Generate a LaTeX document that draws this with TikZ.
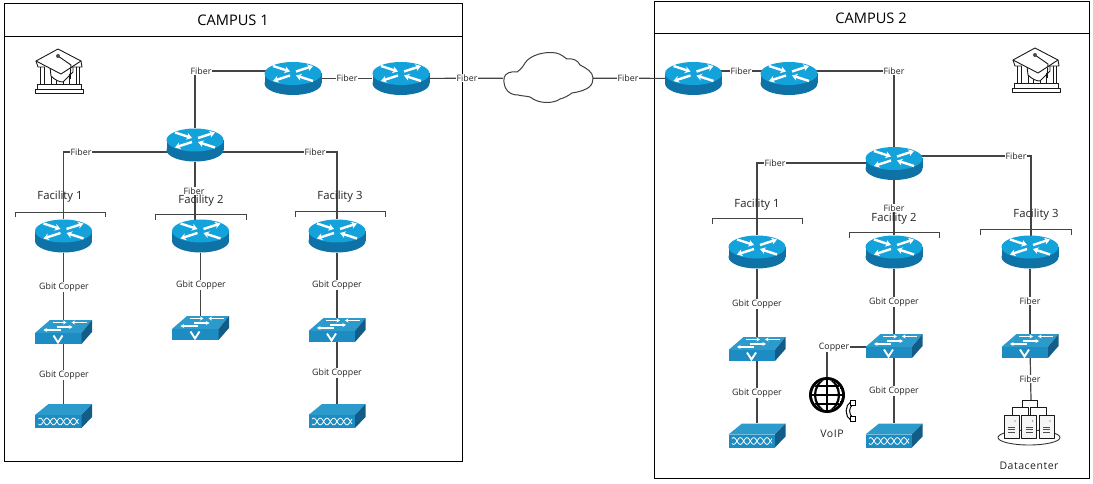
\documentclass[tikz,border=0pt]{standalone}
\usepackage{fontspec}
\setmainfont{Open Sans}
\usetikzlibrary{arrows.meta}
\definecolor{rtop}{HTML}{14A2DA}
\definecolor{rbody}{HTML}{0E72A6}
\definecolor{stop}{HTML}{2C9BCB}
\definecolor{sfront}{HTML}{1C8CC2}
\definecolor{sside}{HTML}{135C88}
\definecolor{linec}{HTML}{444444}
\definecolor{txt}{HTML}{222222}
\tikzset{
  x=1pt,y=-1pt,
  devbox/.style={inner sep=0pt,minimum width=57pt,minimum height=33pt,rectangle},
  conn/.style={draw=linec,line width=1.2pt},
  lab/.style={fill=white,inner sep=1pt,text=txt,font=\fontsize{8.8}{10}\selectfont},
  faclab/.style={inner sep=0pt,text=txt,font=\fontsize{11.3}{13}\selectfont},
  title/.style={inner sep=0pt,text=black,font=\fontsize{14.6}{16}\selectfont},
  captxt/.style={inner sep=0pt,text=txt,font=\fontsize{10.5}{12}\selectfont\addfontfeature{LetterSpace=5}},
  frame/.style={draw=black,line width=1pt},
  brack/.style={draw=linec,line width=1pt},
  warrow/.style={draw=white,line width=2.4pt,-{Stealth[length=5.5pt,width=7pt]}},
  sarrow/.style={draw=white,line width=1.2pt,-{Stealth[length=3.5pt,width=4pt]}},
  icon/.style={draw=black!90,line width=.9pt,line join=round},
  routerpic/.pic={
    \fill[rbody] (-28.5,-5) rectangle (28.5,5);
    \fill[rbody] (0,5) ellipse [x radius=28.5,y radius=11.5];
    \fill[rtop] (0,-5) ellipse [x radius=28.5,y radius=11.5];
    \draw[warrow] (-20,-12.5) -- (-3,-7);
    \draw[warrow] (20,2.5) -- (3,-3);
    \draw[warrow] (3,-7) -- (20,-12.5);
    \draw[warrow] (-3,-3) -- (-20,2.5);
  },
  switchpic/.pic={
    \fill[stop] (-28.5,1) -- (-13.5,-12) -- (28.5,-12) -- (18,1) -- cycle;
    \fill[sfront] (-28.5,1) rectangle (18,12);
    \fill[sside] (18,1) -- (28.5,-12) -- (28.5,0) -- (18,12) -- cycle;
    \draw[sarrow] (-11,-9.5) -- (3,-9.5);
    \draw[sarrow] (23,-9.5) -- (8,-9.5);
    \draw[sarrow] (-7,-5) -- (9,-5);
    \draw[sarrow] (-3,-2) -- (-20,-2);
    \draw[white,line width=1.9pt] (-10,3.5) -- (-5.5,10.5) -- (-1,3.5);
  },
  modulepic/.pic={
    \fill[stop] (-28.5,-1) -- (-15,-12) -- (28.5,-12) -- (18,-1) -- cycle;
    \fill[sfront] (-28.5,-1) rectangle (18,12);
    \fill[sside] (18,-1) -- (28.5,-12) -- (28.5,1) -- (18,12) -- cycle;
    \draw[white,line width=.8pt,smooth] plot[domain=-25:15,samples=50] (\x,{5.5+3.4*sin(\x*27)});
    \draw[white,line width=.8pt,smooth] plot[domain=-25:15,samples=50] (\x,{5.5-3.4*sin(\x*27)});
  },
  buildingpic/.pic={
    \draw[icon,fill=white] (-24,18) rectangle (24,22.5);
    \draw[icon] (-22,18) -- (-22,13.5) -- (22,13.5) -- (22,18);
    \draw[icon] (-19,-4) -- (-19,13.5) (-15,-4) -- (-15,13.5) (-8,0) -- (-8,13.5) (-3,4) -- (-3,13.5) (4,6) -- (4,13.5) (10,3) -- (10,13.5) (17,-4) -- (17,13.5) (20,-4) -- (20,13.5);
    \draw[icon] (-23,-10) -- (-21,-4) -- (-14,-4) (22,-10) -- (23,-4) -- (14,-4);
    \draw[icon,fill=white] (-9,-4) -- (-8,5) .. controls (-4,9) and (0,11) .. (4,11) -- (14,1) -- (14,-4) -- cycle;
    \draw[icon,fill=white] (-1,-22) -- (-23,-10) -- (2,3) -- (22,-10) -- cycle;
    \draw[icon] (-1,-15) -- (12,-6) -- (11,7);
    \fill[black!70] (-1,-15) circle (2);
    \draw[icon,line width=1.4pt] (11,3) -- (11,8);
  },
}
\begin{document}
\begin{tikzpicture}
\useasboundingbox (0,0) rectangle (1093,484);
% campus frames
\draw[frame] (4,4) rectangle (462,461);
\draw[frame] (4,37) -- (462,37);
\draw[frame] (654,2) rectangle (1089,478);
\draw[frame] (654,34) -- (1089,34);
\node[title] (t1) at (233,20) {CAMPUS 1};
\node[title] (t2) at (871,18) {CAMPUS 2};
% device anchors
\foreach \n/\px/\py in {a1/293/78.5,a2/401/78.5,ac/195/145,af1/63.5/236,af2/200.5/236,af3/337/236,
  b1/693.5/78.5,b2/789/78.5,bc/894/163.5,bf1/757/252,bf2/894/252,bf3/1030/252}
  \node[devbox] (\n) at (\px,\py) {};
\foreach \n/\px/\py in {as1/63.5/332,as2/200.5/328,as3/337/330,am1/63.5/416,am3/337/416,
  bs1/757/349,bs2/894/346,bs3/1030/346,bm1/757/435.5,bm2/894/435.5}
  \node[devbox,minimum height=24pt] (\n) at (\px,\py) {};
% junction points
\coordinate (aup) at (293,71);
\coordinate (acup) at (195,71);
\coordinate (acl) at (195,152);
\coordinate (afin) at (195,228);
\coordinate (bup) at (789,71);
\coordinate (bb1) at (693.5,71);
\coordinate (bcr) at (894,156);
\coordinate (bcl) at (894,163);
\coordinate (bf3in) at (1031,250);
\coordinate (vj) at (894,347);
\node[inner sep=0pt,minimum width=36pt,minimum height=36pt,circle] (globe) at (827,395) {};
\node[inner sep=0pt,minimum width=62pt,minimum height=40pt] (dc) at (1029,420) {};
\coordinate (dctop) at (1031,400);
% cloud node
\node[inner sep=0pt,minimum width=90pt,minimum height=51pt] (cloud) at (548,78) {};
% connectors
\draw[conn] (a1) -- (a2);
\draw[conn] (a2) -- (cloud);
\draw[conn] (cloud) -- (b1);
\draw[conn] (aup) -- (acup) -- (ac);
\draw[conn] (acl) -| (af1);
\draw[conn] (acl) -| (af3);
\draw[conn] (ac) -- (afin);
\draw[conn] (bb1) -- (bup);
\draw[conn] (bup) -| (bc);
\draw[conn] (bcl) -| (bf1);
\draw[conn] (bcr) -| (bf3in);
\draw[conn] (bc) -- (bf2);
\draw[conn] (af1) -- (as1);
\draw[conn] (as1) -- (am1);
\draw[conn] (af2) -- (as2);
\draw[conn] (af3) -- (as3);
\draw[conn] (as3) -- (am3);
\draw[conn] (bf1) -- (bs1);
\draw[conn] (bs1) -- (bm1);
\draw[conn] (bf2) -- (bs2);
\draw[conn] (bs2) -- (bm2);
\draw[conn] (bf3) -- (bs3);
\draw[conn] (bs3) -- (dctop);
\draw[conn] (vj) -| (globe);
% cloud
\draw[draw=black!75,fill=white,line width=1pt] (504,78)
  .. controls (505,73) and (511,71) .. (517,72)
  .. controls (520,70) and (523,67) .. (525,63)
  .. controls (530,55) and (545,51) .. (556,53)
  .. controls (561,54) and (564,57) .. (567,59)
  .. controls (572,58) and (578,60) .. (580,65)
  .. controls (586,68) and (593,72) .. (593,78)
  .. controls (593,85) and (590,90) .. (572,93)
  .. controls (568,96) and (564,98) .. (560,99)
  .. controls (555,103) and (540,105) .. (530,97)
  .. controls (526,96) and (522,96) .. (518,95)
  .. controls (510,95) and (503,90) .. (504,78) -- cycle;
% brackets
\foreach \xa/\xb/\ya/\yb in {15/105/217/212,155/246/220/214,295/385/217/211,712/802/224/218,849/939/238/232,980/1071/235/229}
  \draw[brack] (\xa,\ya) -- (\xa,\yb) -- (\xb,\yb) -- (\xb,\ya);
% devices
\foreach \n in {a1,a2,ac,af1,af2,af3,b1,b2,bc,bf1,bf2,bf3}
  \pic at (\n) {routerpic};
\foreach \n in {as1,as2,as3,bs1,bs2,bs3}
  \pic at (\n) {switchpic};
\foreach \n in {am1,am3,bm1,bm2}
  \pic at (\n) {modulepic};
\pic at (59,71) {buildingpic};
\pic at (1036,70) {buildingpic};
% globe
\fill[black] (globe) circle (18);
\begin{scope}
  \clip (globe) circle (15);
  \fill[white] (globe) circle (15);
  \draw[black,line width=2.2pt] (809,395) -- (845,395) (809,386) -- (845,386) (809,404) -- (845,404) (827,377) -- (827,413);
  \draw[black,line width=2.2pt] (827,377) .. controls (811,385) and (811,405) .. (827,413);
  \draw[black,line width=2.2pt] (827,377) .. controls (843,385) and (843,405) .. (827,413);
\end{scope}
% phone
\draw[black,line width=4.4pt] (852,403) .. controls (846.5,406) and (846.5,416) .. (852,419);
\draw[white,line width=2.2pt] (852,403) .. controls (846.5,406) and (846.5,416) .. (852,419);
\draw[black,line width=1pt,fill=white] (850,400.5) rectangle (855,405.5);
\draw[black,line width=1pt,fill=white] (850,416.5) rectangle (855,421.5);
% datacenter
\draw[icon,draw=black!80,fill=white] (1029,437.5) ellipse [x radius=31,y radius=7.5];
\draw[icon,line width=.8pt] (1022,407) -- (1022,400) -- (1037,400) -- (1037,407);
\draw[icon,line width=.8pt] (1012,415) -- (1012,407) -- (1028,407) -- (1028,415) (1030,415) -- (1030,407) -- (1046,407) -- (1046,415);
\foreach \sx in {1004,1021.5,1039}{
  \draw[icon,line width=.8pt,fill=black!4] (\sx,415) rectangle ++(15,23);
  \fill[black!70] (\sx+11,421) circle (.7);
  \draw[black!70,line width=.5pt] (\sx+4,427) -- ++(7,0) (\sx+4,429.5) -- ++(7,0) (\sx+4,432) -- ++(7,0);
}
% connector labels
\foreach \n/\px/\py/\s in {l1/201/71/Fiber,l2/347/78/Fiber,l3/467/78/Fiber,l4/81/152/Fiber,l5/194/191/Fiber,l6/315/152/Fiber,
  l7/628/78/Fiber,l8/741/71/Fiber,l9/894/71/Fiber,l10/775/163/Fiber,l11/1016/156/Fiber,l12/894/208/Fiber,
  l13/1030/301/Fiber,l14/1030/379/Fiber,l15/834/347/Copper,
  g1/64/287/Gbit Copper,g2/64/375/Gbit Copper,g3/201/285/Gbit Copper,g4/337/285/Gbit Copper,g5/337/373/Gbit Copper,
  g6/757/304/Gbit Copper,g7/757/393/Gbit Copper,g8/894/302/Gbit Copper,g9/894/391/Gbit Copper}
  \node[lab] (\n) at (\px,\py) {\s};
% facility labels
\foreach \n/\px/\py/\s in {fa1/60/197/Facility 1,fa2/201/201/Facility 2,fa3/340/197/Facility 3,
  fb1/757/205/Facility 1,fb2/894/219/Facility 2,fb3/1036/215/Facility 3}
  \node[faclab] (\n) at (\px,\py) {\s};
\node[captxt] (voip) at (832,434) {VoIP};
\node[captxt] (dclab) at (1029,466) {Datacenter};
\end{tikzpicture}
\end{document}
